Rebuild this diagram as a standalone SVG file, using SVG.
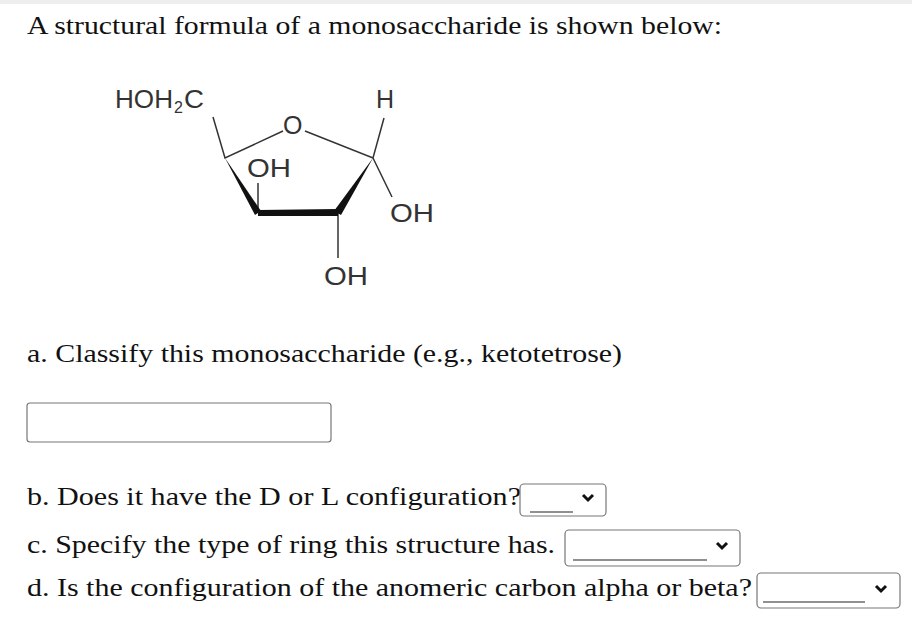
<svg xmlns="http://www.w3.org/2000/svg" width="912" height="628" viewBox="0 0 912 628">
<style>
.t{font-family:"Liberation Serif",serif;font-size:26px;fill:#111}
.c{font-family:"Liberation Sans",Arial,sans-serif;font-size:25px;fill:#333}
.s{font-family:"Liberation Sans",Arial,sans-serif;font-size:16px;fill:#333}
.b{stroke:#333;stroke-width:1.5;fill:none}
.box{fill:#fff;stroke:#777;stroke-width:1.2}
.u{stroke:#222;stroke-width:1.2}
.chev{fill:none;stroke:#111;stroke-width:3}
</style>
<rect width="912" height="628" fill="#fff"/>
<rect width="912" height="4" fill="#eeeeee"/>
<text class="t" x="27" y="34" textLength="695" lengthAdjust="spacingAndGlyphs">A structural formula of a monosaccharide is shown below:</text>
<g id="molecule">
<text class="c" x="115" y="108" textLength="58" lengthAdjust="spacingAndGlyphs">HOH</text><text class="s" x="174" y="113">2</text><text class="c" x="184" y="108" textLength="20" lengthAdjust="spacingAndGlyphs">C</text>
<text class="c" x="376" y="108">H</text>
<text class="c" x="283" y="134" font-size="22">O</text>
<text class="c" x="247" y="177" textLength="44" lengthAdjust="spacingAndGlyphs">OH</text>
<text class="c" x="390" y="222" textLength="44" lengthAdjust="spacingAndGlyphs">OH</text>
<text class="c" x="324" y="285" textLength="44" lengthAdjust="spacingAndGlyphs">OH</text>
<path class="b" d="M213 117 L225 158 L283 131 M305 131 L373 158 L384 118 M373 158 L392 197 M258 183 L258 213 M338 213 L338 258"/>
<polygon points="225,158 255,215 261,211" fill="#111"/>
<polygon points="258,210 338,209 338,216 258,216" fill="#111"/>
<polygon points="373,158 334,211 341,215" fill="#111"/>
</g>
<text class="t" x="27" y="362" textLength="595" lengthAdjust="spacingAndGlyphs">a. Classify this monosaccharide (e.g., ketotetrose)</text>
<g id="input-a"><rect class="box" x="27" y="403" width="304" height="39" rx="3"/></g>
<text class="t" x="27" y="505" textLength="494" lengthAdjust="spacingAndGlyphs">b. Does it have the D or L configuration?</text>
<g id="select-b"><rect class="box" x="520" y="484" width="86" height="32" rx="4"/><line class="u" x1="530" y1="512" x2="573" y2="512"/><path class="chev" d="M583 495 L588 500 L593 495"/></g>
<text class="t" x="27" y="553" textLength="528" lengthAdjust="spacingAndGlyphs">c. Specify the type of ring this structure has.</text>
<g id="select-c"><rect class="box" x="565" y="530" width="175" height="36" rx="4"/><line class="u" x1="573" y1="560" x2="707" y2="560"/><path class="chev" d="M717 543 L722 548 L727 543"/></g>
<text class="t" x="27" y="596" textLength="725" lengthAdjust="spacingAndGlyphs">d. Is the configuration of the anomeric carbon alpha or beta?</text>
<g id="select-d"><rect class="box" x="757" y="573" width="143" height="35" rx="4"/><line class="u" x1="763" y1="602" x2="865" y2="602"/><path class="chev" d="M876 586 L881 591 L886 586"/></g>
</svg>
